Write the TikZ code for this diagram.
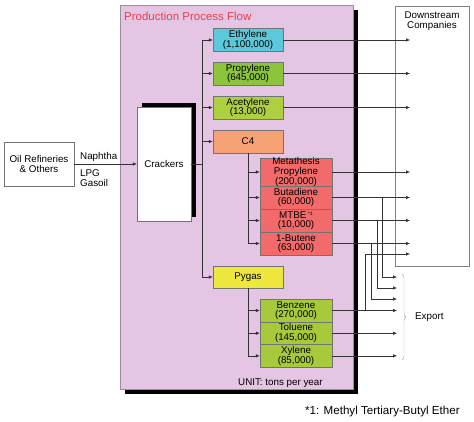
\documentclass[tikz,border=0pt]{standalone}
\usepackage{fontspec}
\setmainfont{Liberation Sans}
\usetikzlibrary{arrows.meta, positioning, shadows, decorations.pathreplacing}
\definecolor{flowpink}{HTML}{E4C5E4}
\definecolor{flowedge}{HTML}{9C8C9C}
\definecolor{titlered}{HTML}{E8404F}
\definecolor{ethylcyan}{HTML}{5CC8D9}
\definecolor{propgreen}{HTML}{8CC43C}
\definecolor{acetgreen}{HTML}{AED040}
\definecolor{aromgreen}{HTML}{A6CA3A}
\definecolor{cfourorange}{HTML}{F7A274}
\definecolor{cfourred}{HTML}{F26A6A}
\definecolor{pygasyellow}{HTML}{EEE83E}
\tikzset{%
	every product/.style={
		draw=black!55,
		minimum width=70pt,
		minimum height=23pt,
		inner sep=0pt,
		align=center,
		font=\fontsize{9.8}{9.6}\selectfont
	},
	sub product/.style={
		every product,
		minimum width=72pt,
	},
	flow line/.style={
		draw=black!80,
		line width=0.5pt,
		-{Latex[length=4pt,width=3.5pt]}
	},
	plain text/.style={
		inner sep=0pt,
		font=\fontsize{9.8}{10.5}\selectfont
	},
}

\begin{document}
\begin{tikzpicture}[x=1pt,y=-1pt]
	\useasboundingbox (0,0) rectangle (474,422);
	
	% Draw the production frame
	\node[draw=flowedge, fill=flowpink, minimum width=233pt, minimum height=384pt,
		drop shadow={shadow xshift=5pt, shadow yshift=-5pt, fill=black, opacity=1}]
		(flow) at (236.5,197) {};
	\node[anchor=west, text=titlered, inner sep=0pt, font=\fontsize{11.5}{12}\selectfont]
		(title) at (124,16) {Production Process Flow};
	
	% Draw the source and the crackers
	\node[draw=black!55, fill=white, minimum width=70pt, minimum height=44pt, align=center,
		inner sep=0pt, font=\fontsize{9.8}{10}\selectfont] (oil) at (39,164) {Oil Refineries\\\& Others};
	\node[draw=black!55, fill=white, minimum width=54pt, minimum height=114pt, inner sep=0pt,
		font=\fontsize{9.8}{10}\selectfont,
		drop shadow={shadow xshift=4.5pt, shadow yshift=4pt, fill=black, opacity=1}]
		(crackers) at (164,164) {Crackers};
	\node[plain text, anchor=west] (naphtha) at (80,157) {Naphtha};
	\node[plain text, anchor=north west, align=left] (lpg) at (80,169) {LPG\\Gasoil};
	
	% Draw the downstream box
	\node[draw=black!50, fill=white, minimum width=74pt, minimum height=260pt] (ds) at (432,136) {};
	\node[plain text, align=center] (dstext) at (432,21) {Downstream\\Companies};
	
	% Draw the first products
	\node[every product, fill=ethylcyan] (ethyl) at (248,40) {Ethylene\\(1,100,000)};
	\node[every product, fill=propgreen] (propyl) at (248,73.5) {Propylene\\(645,000)};
	\node[every product, fill=acetgreen] (acetyl) at (248,107.5) {Acetylene\\(13,000)};
	\node[every product, fill=cfourorange] (cfour) at (248,141.5) {C4};
	\node[every product, fill=pygasyellow, minimum height=22pt] (pygas) at (248,277) {Pygas};
	
	% Draw the C4 products
	\node[sub product, fill=cfourred, minimum height=28pt] (meta) at (296,172) {Metathesis\\Propylene\\(200,000)};
	\node[sub product, fill=cfourred] (buta) at (296,197.5) {Butadiene\\(60,000)};
	\node[sub product, fill=cfourred] (mtbe) at (296,220.5)
		{MTBE\,\raisebox{3pt}{\fontsize{5}{5}\selectfont *1}\\(10,000)};
	\node[sub product, fill=cfourred] (butene) at (296,243.5) {1-Butene\\(63,000)};
	
	% Draw the Pygas products
	\node[sub product, fill=aromgreen, minimum height=22.7pt] (benzene) at (296,310.5) {Benzene\\(270,000)};
	\node[sub product, fill=aromgreen, minimum height=22.7pt] (toluene) at (296,333.2) {Toluene\\(145,000)};
	\node[sub product, fill=aromgreen, minimum height=22.7pt] (xylene) at (296,355.9) {Xylene\\(85,000)};
	
	\node[plain text, anchor=west] (unit) at (238,383) {UNIT: tons per year};
	
	% Draw the arrows into the plant
	\draw[flow line] (oil.east) -- (crackers.west);
	\foreach \p in {ethyl, propyl, acetyl, cfour, pygas}
		\draw[flow line] (crackers.east) -- ++(11,0) |- (\p.west);
	\foreach \p in {meta, buta, mtbe, butene}
		\draw[flow line] (cfour.south) |- (\p.west);
	\foreach \p in {benzene, toluene, xylene}
		\draw[flow line] (pygas.south) |- (\p.west);
	
	% Draw the arrows to the companies
	\coordinate (dsin) at (410,0);
	\foreach \p in {ethyl, propyl, acetyl, meta, buta, mtbe, butene}
		\draw[flow line] (\p.east) -- (\p.east -| dsin);
	\coordinate (dsben) at (410,254);
	
	% Draw the arrows to export
	\coordinate (exA) at (397,277);
	\coordinate (exB) at (397,288);
	\coordinate (exC) at (397,299);
	\draw[flow line] (buta.east) -- ++(50,0) |- (exA);
	\draw[flow line] (mtbe.east) -- ++(45,0) |- (exB);
	\draw[flow line] (butene.east) -- ++(39,0) |- (exC);
	\draw[flow line] (benzene.east) -- ++(33,0) |- (dsben);
	\foreach \p in {benzene, toluene, xylene}
		\draw[flow line] (\p.east) -- (\p.east -| exA);
	
	% Draw the brace
	\draw[decorate, decoration={brace, amplitude=4pt}, draw=black!35] (402,274) -- (402,360);
	\node[plain text, anchor=west] (export) at (415,317) {Export};
	
	\node[anchor=west, inner sep=0pt, font=\fontsize{11.6}{12}\selectfont] (note) at (305,411)
		{*1: Methyl Tertiary-Butyl Ether};
\end{tikzpicture}
\end{document}
